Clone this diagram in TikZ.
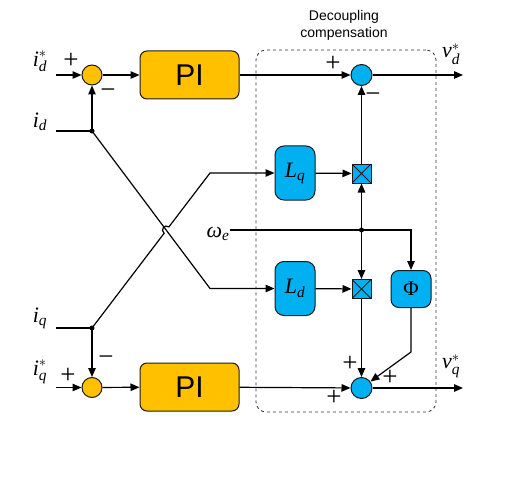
\documentclass[tikz,border=0pt]{standalone}
\usepackage{fontspec}
\usepackage{amsmath}
\setmainfont{Liberation Serif}
\newfontfamily\arialf{Liberation Sans}
\usetikzlibrary{arrows.meta}
\definecolor{orangeC}{HTML}{FFC000}
\definecolor{blueC}{HTML}{00B0F0}
\definecolor{edgeC}{HTML}{1A1A1A}
\begin{document}
\begin{tikzpicture}[x=1pt,y=-1pt,
  wire/.style={line width=1.2pt},
  conn/.style={line width=1.2pt,-{Triangle[length=9pt,width=7.5pt]}},
  osum/.style={circle,draw=edgeC,line width=1pt,fill=orangeC,minimum size=20pt,inner sep=0pt},
  bsum/.style={circle,draw=edgeC,line width=1pt,fill=blueC,minimum size=21pt,inner sep=0pt},
  piblock/.style={draw=edgeC,line width=1pt,rounded corners=7pt,fill=orangeC,minimum width=99pt,minimum height=48pt,inner sep=0pt,font=\arialf\fontsize{30}{30}\selectfont},
  lblock/.style={draw=edgeC,line width=1pt,rounded corners=9pt,fill=blueC,minimum width=40pt,minimum height=54pt,inner sep=0pt,font=\fontsize{22}{24}\selectfont},
  phiblock/.style={draw=edgeC,line width=1pt,rounded corners=8pt,fill=blueC,minimum width=40pt,minimum height=37pt,inner sep=0pt,font=\fontsize{21}{22}\selectfont},
  mult/.style={draw=edgeC,line width=1pt,fill=blueC,minimum size=19pt,inner sep=0pt,
    path picture={\draw[line width=1pt] (path picture bounding box.north west) -- (path picture bounding box.south east)
      (path picture bounding box.north east) -- (path picture bounding box.south west);}},
  lbl/.style={font=\fontsize{22}{24}\selectfont,inner sep=0pt},
  sgn/.style={font=\fontsize{27}{27}\selectfont,inner sep=0pt},
  decbox/.style={draw=black!80,dashed,line width=0.8pt,rounded corners=10pt,minimum width=180pt,minimum height=362pt,inner sep=0pt},
  dot/.style={circle,fill=black,minimum size=5pt,inner sep=0pt}
]
\useasboundingbox (0,0) rectangle (522,492);

% dashed decoupling box
\node[decbox] (dec) at (346,231) {};
\node[font=\arialf\fontsize{14}{17}\selectfont,align=center,inner sep=0pt] (dectxt) at (344,25) {Decoupling\\compensation};

% blocks
\node[osum] (s1) at (92,75) {};
\node[osum] (s2) at (92,387.5) {};
\node[piblock] (pi1) at (189.5,75) {PI};
\node[piblock] (pi2) at (189.5,387) {PI};
\node[bsum] (s3) at (361.5,75) {};
\node[bsum] (s4) at (361.5,388) {};
\node[lblock] (lq) at (295,173) {$\textit{L}_{\textit{q}}$};
\node[lblock] (ld) at (295,288.5) {$\textit{L}_{\textit{d}}$};
\node[mult] (m1) at (361.5,173.5) {};
\node[mult] (m2) at (361.5,289) {};
\node[phiblock] (phi) at (411,289) {Φ};

% coordinates
\coordinate (idsin) at (56,75);
\coordinate (idin) at (56,131);
\node[dot] (idn) at (92,131) {};
\coordinate (iqin) at (56,328);
\node[dot] (iqn) at (92,328) {};
\coordinate (iqsin) at (56,387.5);
\coordinate (vdout) at (463,75);
\coordinate (vqout) at (463,388);
\coordinate (wein) at (230,230);
\node[dot] (wen) at (361.5,230) {};
\coordinate (wec) at (411,230);
\coordinate (dbend) at (210,288.5);
\coordinate (qbend) at (210,173);
\coordinate (phib) at (411,352);
\coordinate (jA) at (164.1,233.3);
\coordinate (jB) at (168.9,226.9);

% connectors
\draw[conn] (idsin) -- (s1);
\draw[conn] (s1) -- (pi1);
\draw[wire] (idin) -- (idn.center);
\draw[conn] (idn.center) -- (s1);
\draw[conn] (pi1) -- (s3);
\draw[conn] (s3) -- (vdout);
\draw[conn] (m1) -- (s3);
\draw[conn] (lq) -- (m1);
\draw[conn] (ld) -- (m2);
\draw[wire] (wein) -- (wen.center);
\draw[conn] (wen.center) -- (m1);
\draw[conn] (wen.center) -- (m2);
\draw[conn] (wen.center) -- (wec) -- (phi);
\draw[conn] (m2) -- (s4);
\draw[conn] (phi) -- (phib) -- (s4);
\draw[conn] (pi2) -- (s4);
\draw[conn] (s4) -- (vqout);
\draw[conn] (iqsin) -- (s2);
\draw[conn] (s2) -- (pi2);
\draw[wire] (iqin) -- (iqn.center);
\draw[conn] (iqn.center) -- (s2);
\draw[conn] (idn.center) -- (dbend) -- (ld);
\draw[conn] (iqn.center) -- (jA) .. controls (159.9,230.1) and (164.7,223.7) .. (jB) -- (qbend) -- (lq);

% labels
\node[lbl] (lidstar) at (40,61) {$\textit{i}_{\textit{d}}^{*}$};
\node[lbl] (lid) at (40,122) {$\textit{i}_{\textit{d}}$};
\node[lbl] (liq) at (40,318) {$\textit{i}_{\textit{q}}$};
\node[lbl] (liqstar) at (40,372) {$\textit{i}_{\textit{q}}^{*}$};
\node[lbl] (lvd) at (451,54) {$\textit{v}_{\textit{d}}^{*}$};
\node[lbl] (lvq) at (451,366) {$\textit{v}_{\textit{q}}^{*}$};
\node[lbl] (lwe) at (218,234) {$\textit{ω}_{\textit{e}}$};

% signs
\node[sgn] (p1) at (71,61) {+};
\node[sgn] (n1) at (108,94) {−};
\node[sgn] (p2) at (333,64) {+};
\node[sgn] (n2) at (373,98) {−};
\node[sgn] (p3) at (68,376) {+};
\node[sgn] (n3) at (106,361) {−};
\node[sgn] (p4) at (350,364) {+};
\node[sgn] (p5) at (390,378) {+};
\node[sgn] (p6) at (334,398) {+};
\end{tikzpicture}
\end{document}
